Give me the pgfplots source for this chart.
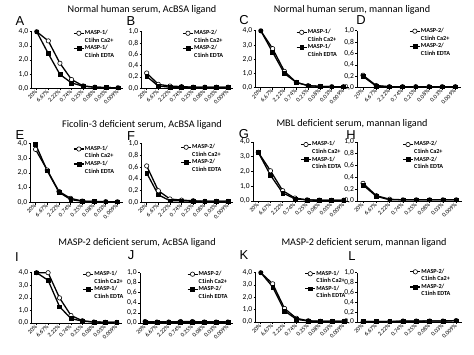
\documentclass[border=0pt]{standalone}
\usepackage{pgfplots}
\pgfplotsset{compat=1.18}
\usepackage{fontspec}
\setmainfont{Carlito}
\newfontfamily\letterfont{Liberation Sans}
\pgfplotsset{
  panel/.style={
    scale only axis,
    axis lines=left,
    axis line style={-, line width=0.9pt},
    xmin=-0.43, xmax=7.43,
    xtick={0,1,2,3,4,5,6,7},
    xticklabels={20\%,6.67\%,2.22\%,0.74\%,0.25\%,0.08\%,0.03\%,0.009\%},
    x tick label style={rotate=45, anchor=east, font=\fontsize{6}{7}\selectfont, inner sep=0.6pt},
    y tick label style={font=\fontsize{7.6}{9}\selectfont, inner sep=1.2pt},
    tick align=outside,
    major tick length=2bp,
    tick style={black, line width=0.7pt},
    ymin=0,
    /pgf/number format/use comma,
    /pgf/number format/fixed,
    /pgf/number format/fixed zerofill,
    /pgf/number format/precision=1,
    /pgf/number format/assume math mode=true,
    legend style={draw=none, fill=none, anchor=north west,
      font=\fontsize{6.2}{7}\selectfont\bfseries, row sep=0.9bp,
      nodes={inner sep=0.4bp}},
    legend cell align=left,
    legend image code/.code={
      \draw[mark repeat=2,mark phase=2,##1] plot coordinates {(0bp,0bp) (5bp,0bp) (10bp,0bp)};
    },
    clip=false,
  },
  m1/.style={panel, ymax=4, ytick={0,1,2,3,4}},
  m2/.style={panel, ymax=1, ytick={0,0.2,0.4,0.6,0.8,1}},
  ca/.style={black, line width=1.3pt, mark=*, mark options={fill=white, line width=0.6pt}, mark size=2.2bp},
  ed/.style={black, line width=1.3pt, mark=square*, mark options={line width=0.5pt}, mark size=1.9bp},
}
\newcommand\legA[3]{\addlegendentry{#1}\addlegendimage{empty legend}\addlegendentry{#2}}
\begin{document}
\begin{tikzpicture}
\useasboundingbox (0,0) rectangle (474bp,-355bp);
% titles
\begin{scope}[every node/.style={font=\fontsize{10.2}{12}\selectfont}]
\node at (142bp,-10bp) {Normal human serum, AcBSA ligand};
\node at (352bp,-10bp) {Normal human serum, mannan ligand};
\node at (142bp,-125bp) {Ficolin-3 deficient serum, AcBSA ligand};
\node at (352bp,-124bp) {MBL deficient serum, mannan ligand};
\node at (137bp,-243bp) {MASP-2 deficient serum, AcBSA ligand};
\node at (364bp,-243bp) {MASP-2 deficient serum, mannan ligand};
\end{scope}
% letters
\begin{scope}[every node/.style={font=\letterfont\fontsize{13}{14}\selectfont}]
\node at (20bp,-21bp) {A};
\node at (131bp,-21bp) {B};
\node at (244bp,-20bp) {C};
\node at (361bp,-20bp) {D};
\node at (20bp,-135bp) {E};
\node at (131bp,-136bp) {F};
\node at (244bp,-134bp) {G};
\node at (351bp,-135bp) {H};
\node at (17bp,-257bp) {I};
\node at (131bp,-255bp) {J};
\node at (244bp,-255bp) {K};
\node at (352bp,-256bp) {L};
\end{scope}
% A
\begin{axis}[m1, at={(31.7bp,-88.3bp)}, anchor=south west, width=91.3bp, height=56.6bp,
  legend style={at={(0.42,1.07)}}]
\addplot[ca] coordinates {(0,4.0) (1,3.35) (2,1.77) (3,0.62) (4,0.17) (5,0.08) (6,0.05) (7,0.04)};
\legA{MASP-1/}{C1ihn Ca2+}{}
\addplot[ed] coordinates {(0,4.0) (1,2.45) (2,0.98) (3,0.38) (4,0.15) (5,0.08) (6,0.05) (7,0.04)};
\legA{MASP-1/}{C1inh EDTA}{}
\end{axis}
% B
\begin{axis}[m2, at={(141.7bp,-88.3bp)}, anchor=south west, width=91.3bp, height=56.6bp,
  legend style={at={(0.41,1.07)}}]
\addplot[ca] coordinates {(0,0.27) (1,0.07) (2,0.04) (3,0.03) (4,0.02) (5,0.02) (6,0.02) (7,0.02)};
\legA{MASP-2/}{C1inh Ca2+}{}
\addplot[ed] coordinates {(0,0.21) (1,0.04) (2,0.02) (3,0.02) (4,0.02) (5,0.02) (6,0.02) (7,0.02)};
\legA{MASP-2/}{C1inh EDTA}{}
\end{axis}
% C
\begin{axis}[m1, at={(255.7bp,-87.8bp)}, anchor=south west, width=93bp, height=57bp,
  legend style={at={(0.40,1.07)}}]
\addplot[ca] coordinates {(0,4.0) (1,2.75) (2,1.15) (3,0.38) (4,0.15) (5,0.1) (6,0.08) (7,0.08)};
\legA{MASP-1/}{C1inh Ca2+}{}
\addplot[ed] coordinates {(0,4.0) (1,2.5) (2,1.0) (3,0.38) (4,0.15) (5,0.1) (6,0.08) (7,0.08)};
\legA{MASP-1/}{C1inh EDTA}{}
\end{axis}
% D
\begin{axis}[m2, at={(357.3bp,-87.8bp)}, anchor=south west, width=103.7bp, height=57bp,
  legend style={at={(0.47,1.09)}}]
\addplot[ca] coordinates {(0,0.22) (1,0.04) (2,0.02) (3,0.02) (4,0.02) (5,0.02) (6,0.02) (7,0.02)};
\legA{MASP-2/}{C1inh Ca2+}{}
\addplot[ed] coordinates {(0,0.2) (1,0.03) (2,0.02) (3,0.02) (4,0.02) (5,0.02) (6,0.02) (7,0.02)};
\legA{MASP-2/}{C1inh EDTA}{}
\end{axis}
% E
\begin{axis}[m1, at={(30.5bp,-202.5bp)}, anchor=south west, width=92bp, height=59bp,
  legend style={at={(0.43,1.0)}}]
\addplot[ca] coordinates {(0,3.6) (1,2.2) (2,0.75) (3,0.28) (4,0.1) (5,0.07) (6,0.06) (7,0.05)};
\legA{MASP-1/}{C1inh Ca2+}{}
\addplot[ed] coordinates {(0,3.95) (1,2.15) (2,0.7) (3,0.2) (4,0.08) (5,0.06) (6,0.05) (7,0.05)};
\legA{MASP-1/}{C1inh EDTA}{}
\end{axis}
% F
\begin{axis}[m2, at={(141.7bp,-202.5bp)}, anchor=south west, width=91.3bp, height=59bp,
  legend style={at={(0.39,1.03)}}]
\addplot[ca] coordinates {(0,0.62) (1,0.2) (2,0.06) (3,0.04) (4,0.03) (5,0.02) (6,0.02) (7,0.02)};
\legA{MASP-2/}{C1inh Ca2+}{}
\addplot[ed] coordinates {(0,0.5) (1,0.13) (2,0.03) (3,0.03) (4,0.02) (5,0.02) (6,0.02) (7,0.02)};
\legA{MASP-2/}{C1inh EDTA}{}
\end{axis}
% G
\begin{axis}[m1, at={(253bp,-201bp)}, anchor=south west, width=96bp, height=59bp,
  legend style={at={(0.46,1.05)}}]
\addplot[ca] coordinates {(0,3.3) (1,2.05) (2,0.7) (3,0.2) (4,0.08) (5,0.06) (6,0.05) (7,0.05)};
\legA{MASP-1/}{C1inh Ca2+}{}
\addplot[ed] coordinates {(0,3.3) (1,1.75) (2,0.55) (3,0.15) (4,0.07) (5,0.05) (6,0.05) (7,0.05)};
\legA{MASP-1/}{C1inh EDTA}{}
\end{axis}
% H
\begin{axis}[m2, at={(357.3bp,-201bp)}, anchor=south west, width=104.7bp, height=59bp,
  legend style={at={(0.40,1.05)}}]
\addplot[ca] coordinates {(0,0.3) (1,0.09) (2,0.03) (3,0.02) (4,0.02) (5,0.02) (6,0.02) (7,0.02)};
\legA{MASP-2/}{C1inh Ca2+}{}
\addplot[ed] coordinates {(0,0.27) (1,0.08) (2,0.02) (3,0.02) (4,0.02) (5,0.02) (6,0.02) (7,0.02)};
\legA{MASP-2/}{C1inh EDTA}{}
\end{axis}
% I
\begin{axis}[m1, at={(31.7bp,-323bp)}, anchor=south west, width=90bp, height=50.3bp,
  legend style={at={(0.53,1.08)}}]
\addplot[ca] coordinates {(0,4.0) (1,4.0) (2,2.0) (3,0.6) (4,0.18) (5,0.08) (6,0.06) (7,0.05)};
\legA{MASP-1/}{C1inh Ca2+}{}
\addplot[ed] coordinates {(0,4.0) (1,3.4) (2,1.3) (3,0.35) (4,0.15) (5,0.08) (6,0.06) (7,0.05)};
\legA{MASP-1/}{C1inh EDTA}{}
\end{axis}
% J
\begin{axis}[m2, at={(140bp,-323bp)}, anchor=south west, width=93bp, height=50.3bp,
  legend style={at={(0.47,1.08)}}]
\addplot[ca] coordinates {(0,0.03) (1,0.02) (2,0.02) (3,0.03) (4,0.03) (5,0.02) (6,0.02) (7,0.02)};
\legA{MASP-2/}{C1inh Ca2+}{}
\addplot[ed] coordinates {(0,0.02) (1,0.02) (2,0.02) (3,0.02) (4,0.02) (5,0.02) (6,0.02) (7,0.02)};
\legA{MASP-2/}{C1inh EDTA}{}
\end{axis}
% K
\begin{axis}[m1, at={(255.7bp,-322bp)}, anchor=south west, width=93.3bp, height=49.3bp,
  legend style={at={(0.49,1.09)}}]
\addplot[ca] coordinates {(0,4.0) (1,3.1) (2,1.1) (3,0.3) (4,0.1) (5,0.06) (6,0.05) (7,0.05)};
\legA{MASP-1/}{C1inh Ca2+}{}
\addplot[ed] coordinates {(0,4.0) (1,2.85) (2,0.9) (3,0.22) (4,0.08) (5,0.05) (6,0.05) (7,0.05)};
\legA{MASP-1/}{C1inh EDTA}{}
\end{axis}
% L
\begin{axis}[m2, at={(357.3bp,-322bp)}, anchor=south west, width=104.7bp, height=49.3bp,
  legend style={at={(0.47,1.13)}}]
\addplot[ca] coordinates {(0,0.01) (1,0.01) (2,0.01) (3,0.02) (4,0.02) (5,0.02) (6,0.02) (7,0.03)};
\legA{MASP-2/}{C1inh Ca2+}{}
\addplot[ed] coordinates {(0,0.01) (1,0.01) (2,0.01) (3,0.015) (4,0.015) (5,0.02) (6,0.02) (7,0.025)};
\legA{MASP-2/}{C1inh EDTA}{}
\end{axis}
\end{tikzpicture}
\end{document}
